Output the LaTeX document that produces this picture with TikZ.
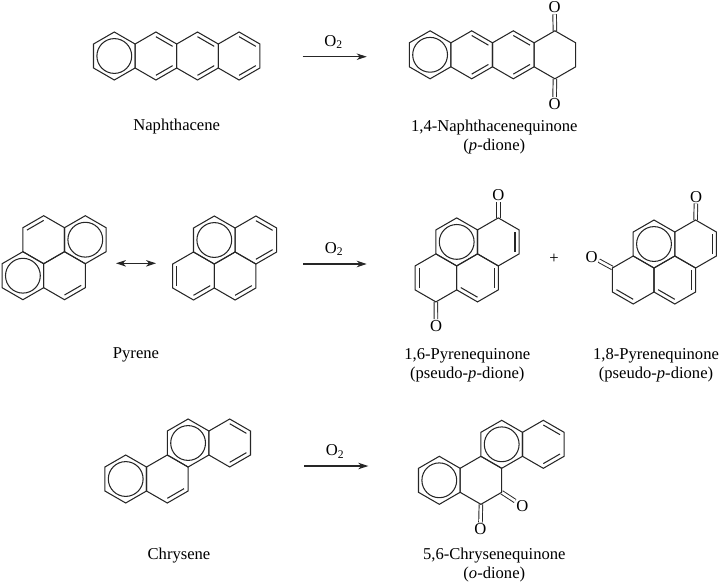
\documentclass[tikz,border=0pt]{standalone}
\usepackage{fontspec}
\setmainfont{Liberation Serif}
\usetikzlibrary{arrows.meta}

% ring at (x,y), plain
\newcommand{\hexring}[2]{\draw[bond,shift={(#1,#2)}] (30:24pt) -- (90:24pt) -- (150:24pt) -- (210:24pt) -- (270:24pt) -- (330:24pt) -- cycle;}
% ring at (x,y) with circle
\newcommand{\aromring}[2]{\hexring{#1}{#2}\draw[bond] (#1,#2) circle[radius=17.4pt];}
% inner line of a double bond, side facing angle #3
\newcommand{\inbond}[3]{\draw[bond,shift={(#1,#2)}] (#3+30:19.3pt) -- (#3-30:19.3pt);}

\begin{document}
\begin{tikzpicture}[x=1pt,y=-1pt,font=\fontsize{16.6}{19}\selectfont]
       \tikzstyle{bond}=[line width=1.05pt,black!85]
       \tikzstyle{cobond}=[double,double distance=2.6pt,line width=0.95pt,black!85]
       \tikzstyle{oxy}=[inner sep=1pt]
       \tikzstyle{caption}=[align=center,inner sep=0pt,anchor=base]
       \tikzstyle{react}=[line width=1.05pt,black!85,-{Stealth[length=10pt,width=6.5pt,inset=3pt]}]
       \useasboundingbox (0,0) rectangle (720,584);

       % naphthacene
       \aromring{114.3}{56}
       \hexring{155.9}{56} \inbond{155.9}{56}{60} \inbond{155.9}{56}{-60}
       \hexring{197.5}{56} \inbond{197.5}{56}{60} \inbond{197.5}{56}{-60}
       \hexring{239.1}{56} \inbond{239.1}{56}{60} \inbond{239.1}{56}{-60}
       \node[caption] (naph) at (176.7,130) {Naphthacene};

       \coordinate (a1s) at (302.7,56.7);
       \coordinate (a1e) at (366.7,56.7);
       \draw[react] (a1s) -- (a1e);
       \node (o2a) at (333.5,42) {O\textsubscript{2}};

       % 1,4-naphthacenequinone
       \coordinate (c1) at (554.9,30.8);
       \coordinate (c4) at (554.9,78.8);
       \node[oxy] (o1) at (554.5,7.5) {O};
       \node[oxy] (o4) at (554.5,103.8) {O};
       \draw[cobond] (c1) -- (o1);
       \draw[cobond] (c4) -- (o4);
       \aromring{430.1}{54.8}
       \hexring{471.7}{54.8} \inbond{471.7}{54.8}{60} \inbond{471.7}{54.8}{-60}
       \hexring{513.3}{54.8} \inbond{513.3}{54.8}{60} \inbond{513.3}{54.8}{-60}
       \hexring{554.9}{54.8}
       \node[caption] (naphq) at (494.3,150.5) {1,4-Naphthacenequinone\\(\textit{p}-dione)};

       % pyrene, both forms
       \aromring{22.9}{275.7}
       \aromring{85.3}{239.7}
       \hexring{43.7}{239.7} \inbond{43.7}{239.7}{120}
       \hexring{64.5}{275.7} \inbond{64.5}{275.7}{-60}

       \coordinate (b1) at (116,263.3);
       \coordinate (b2) at (156,263.3);
       \draw[react,{Stealth[length=10pt,width=6.5pt,inset=3pt]}-{Stealth[length=10pt,width=6.5pt,inset=3pt]}] (b1) -- (b2);

       \aromring{214.3}{240}
       \hexring{255.9}{240} \inbond{255.9}{240}{60} \inbond{255.9}{240}{-60}
       \hexring{193.5}{276} \inbond{193.5}{276}{180} \inbond{193.5}{276}{-60}
       \hexring{235.1}{276} \inbond{235.1}{276}{-60}
       \node[caption] (pyr) at (136,358.3) {Pyrene};

       \coordinate (a2s) at (303.3,264);
       \coordinate (a2e) at (366.7,264);
       \draw[react] (a2s) -- (a2e);
       \node (o2b) at (334,249) {O\textsubscript{2}};

       % 1,6-pyrenequinone
       \coordinate (c16a) at (498.3,217.9);
       \coordinate (c16b) at (435.9,301.9);
       \node[oxy] (o16a) at (498.3,195) {O};
       \node[oxy] (o16b) at (436,326) {O};
       \draw[cobond] (c16a) -- (o16a);
       \draw[cobond] (c16b) -- (o16b);
       \aromring{456.7}{241.9}
       \hexring{498.3}{241.9} \inbond{498.3}{241.9}{0}
       \hexring{435.9}{277.9} \inbond{435.9}{277.9}{180}
       \hexring{477.5}{277.9} \inbond{477.5}{277.9}{0} \inbond{477.5}{277.9}{-120}
       \node[caption] (pq16) at (467.3,378.3) {1,6-Pyrenequinone\\(pseudo-\textit{p}-dione)};

       \node (plus) at (554,259.3) {+};

       % 1,8-pyrenequinone
       \coordinate (c18a) at (695.6,220);
       \coordinate (c18b) at (612.4,268);
       \node[oxy] (o18a) at (696,196.7) {O};
       \node[oxy] (o18b) at (591.7,256.7) {O};
       \draw[cobond] (c18a) -- (o18a);
       \draw[cobond] (c18b) -- (o18b);
       \aromring{654}{244}
       \hexring{695.6}{244} \inbond{695.6}{244}{0}
       \hexring{633.2}{280} \inbond{633.2}{280}{-120}
       \hexring{674.8}{280} \inbond{674.8}{280}{0} \inbond{674.8}{280}{-120}
       \node[caption] (pq18) at (656,378.3) {1,8-Pyrenequinone\\(pseudo-\textit{p}-dione)};

       % chrysene
       \aromring{125.7}{479}
       \hexring{167.3}{479} \inbond{167.3}{479}{-60}
       \aromring{188.1}{443}
       \hexring{229.7}{443} \inbond{229.7}{443}{60} \inbond{229.7}{443}{-60}
       \node[caption] (chry) at (179,559.3) {Chrysene};

       \coordinate (a3s) at (304,466);
       \coordinate (a3e) at (368.3,466);
       \draw[react] (a3s) -- (a3e);
       \node (o2c) at (335,451.7) {O\textsubscript{2}};

       % 5,6-chrysenequinone
       \coordinate (c5) at (480.9,504.3);
       \coordinate (c6) at (501.7,492.3);
       \node[oxy] (o5) at (480.3,529.3) {O};
       \node[oxy] (o6) at (522.3,505.7) {O};
       \draw[cobond] (c5) -- (o5);
       \draw[cobond] (c6) -- (o6);
       \aromring{439.3}{480.3}
       \hexring{480.9}{480.3}
       \aromring{501.7}{444.3}
       \hexring{543.3}{444.3} \inbond{543.3}{444.3}{60} \inbond{543.3}{444.3}{-60}
       \node[caption] (chryq) at (494.3,578.3) {5,6-Chrysenequinone\\(\textit{o}-dione)};
\end{tikzpicture}
\end{document}
